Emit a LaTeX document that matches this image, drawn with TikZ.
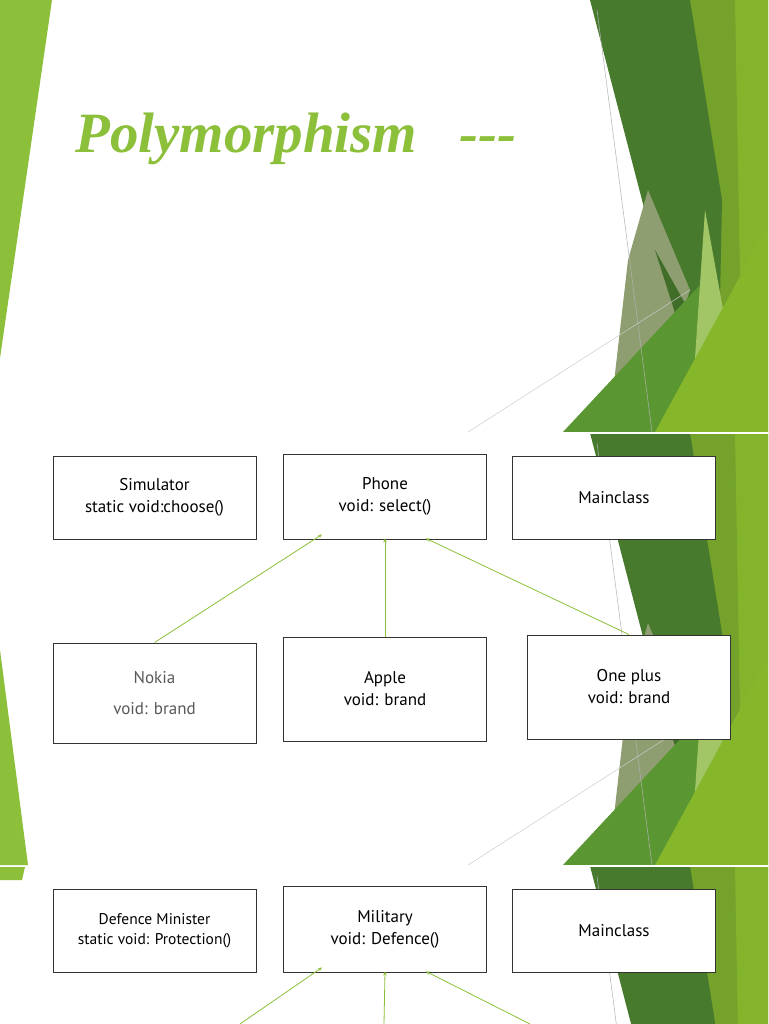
\documentclass[tikz,border=0pt]{standalone}
\usepackage{fontspec}
\setmainfont{PT Sans}
\newfontfamily\titlefont{Liberation Serif}
\definecolor{lime}{HTML}{8CBF3A}
\definecolor{dkg}{HTML}{477A2D}
\definecolor{olv}{HTML}{74A22B}
\definecolor{mdg}{HTML}{5A9631}
\definecolor{brt}{HTML}{86B72B}
\definecolor{gry}{HTML}{8E9E70}
\usetikzlibrary{arrows.meta}
\tikzset{
 cls/.style={draw=black!80,line width=0.9pt,fill=white,minimum width=203pt,align=center,font=\fontsize{17}{22}\selectfont,inner sep=0pt},
 inh/.style={draw=lime,line width=0.8pt,-{Stealth[length=4pt,width=3.5pt]}},
}
\newcommand{\deco}[1]{%
 \begin{scope}[yshift=-#1pt]
 \clip (0,0) rectangle (768,432);
 \fill[olv] (690,0) -- (768,0) -- (768,432) -- (640,432) -- cycle;
 \fill[brt!85!olv] (735,0) -- (768,0) -- (768,225) -- (740,280) -- cycle;
 \fill[dkg] (590,0) -- (690,0) -- (722,200) -- (720,300) -- (700,330) -- (655,250) -- cycle;
 \fill[gry] (648,190) -- (690,290) -- (660,380) -- (612,400) -- (628,260) -- cycle;
 \fill[dkg!90!black] (655,250) -- (700,330) -- (690,360) -- cycle;
 \fill[mdg] (563,432) -- (700,285) -- (715,432) -- cycle;
 \fill[brt!60!white!70!olv] (705,210) -- (725,320) -- (700,432) -- (690,432) -- cycle;
 \fill[brt] (655,432) -- (768,225) -- (768,432) -- cycle;
 \draw[gray!60,line width=0.5pt] (597,10) -- (652,432);
 \draw[gray!40,line width=0.5pt] (468,432) -- (690,290);
 \end{scope}}
\begin{document}
\begin{tikzpicture}[x=1pt,y=-1pt]
\fill[white] (0,0) rectangle (768,1024);
\useasboundingbox (0,0) rectangle (768,1024);
\deco{0}
\deco{433}
\deco{866}
\fill[white] (0,432) rectangle (768,434);
\fill[white] (0,865) rectangle (768,867);
\fill[lime] (0,0) -- (52,0) -- (0,358) -- cycle;
\fill[lime] (0,650) -- (28,865) -- (0,865) -- cycle;
\fill[lime] (0,867) -- (25,867) -- (22,880) -- (0,880) -- cycle;
\node[anchor=base west,text=lime,font=\titlefont\bfseries\itshape\fontsize{57}{62}\selectfont,inner sep=0pt] (title) at (75,153) {Polymorphism\hspace{42pt}---};
% slide 2
\node[cls,minimum height=83pt] (sim) at (154.5,497.5) {Simulator\\static void:choose()};
\node[cls,minimum height=85pt] (phone) at (385,496.5) {Phone\\void: select()};
\node[cls,minimum height=83pt] (main1) at (614,497.5) {Mainclass};
\node[cls,minimum height=100pt,text=black!65,font=\fontsize{17}{31}\selectfont] (nokia) at (154.5,693) {Nokia\\void: brand};
\node[cls,minimum height=104pt] (apple) at (385,689) {Apple\\void: brand};
\node[cls,minimum height=104pt] (oneplus) at (629,687) {One plus\\void: brand};
\draw[inh] (nokia.north) -- ([xshift=-63pt,yshift=5pt]phone.south);
\draw[inh] (apple.north) -- ([yshift=1pt]phone.south);
\draw[inh] (oneplus.north) -- ([xshift=41pt,yshift=1pt]phone.south);
% slide 3
\node[cls,minimum height=83pt,font=\fontsize{15.5}{20}\selectfont] (dm) at (154.5,930.5) {Defence Minister\\static void: Protection()};
\node[cls,minimum height=86pt] (mil) at (385,929) {Military\\void: Defence()};
\node[cls,minimum height=83pt] (main2) at (614,930.5) {Mainclass};
\coordinate (e1) at (240,1024);
\coordinate (e2) at (384,1024);
\coordinate (e3) at (530,1024);
\draw[inh] (e1) -- ([xshift=-63pt,yshift=5pt]mil.south);
\draw[inh] (e2) -- ([yshift=1pt]mil.south);
\draw[inh] (e3) -- ([xshift=41pt,yshift=1pt]mil.south);
\end{tikzpicture}
\end{document}
